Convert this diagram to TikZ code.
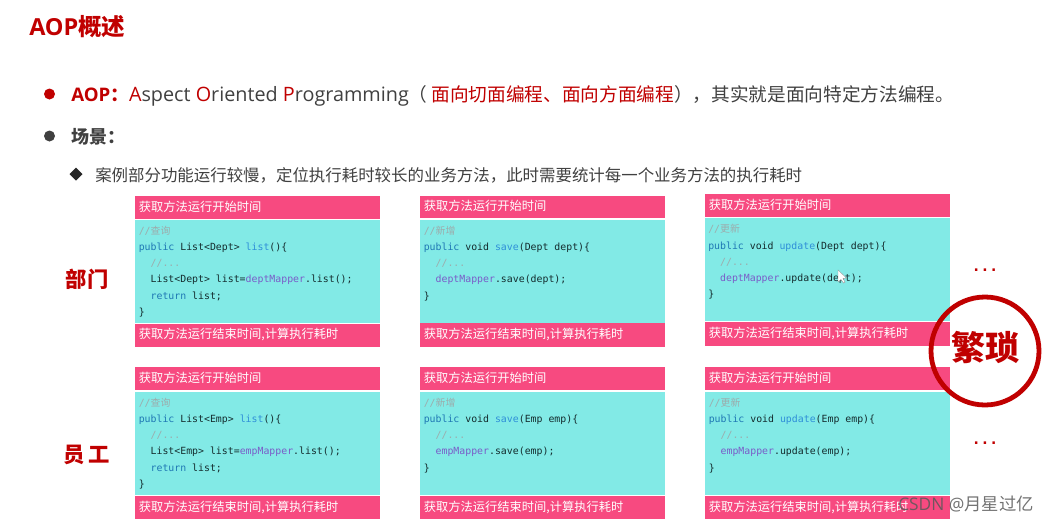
\documentclass[tikz,border=0pt]{standalone}
\usepackage{fontspec}
\setmainfont{Noto Sans CJK SC}
\setmonofont{DejaVu Sans Mono}
\newfontfamily\latinfont{Open Sans}
\definecolor{stampred}{HTML}{C00000}
\definecolor{bargrey}{HTML}{404040}
\definecolor{barpink}{HTML}{F74A80}
\definecolor{bodycyan}{HTML}{82EAE6}
\definecolor{codekw}{HTML}{1F78B4}
\definecolor{codefn}{HTML}{2F8FD8}
\definecolor{codefield}{HTML}{7A5CC8}
\definecolor{codecm}{HTML}{9CACAC}
\definecolor{codetext}{HTML}{142C2E}
\newcommand{\kw}[1]{\textcolor{codekw}{#1}}
\newcommand{\fn}[1]{\textcolor{codefn}{#1}}
\newcommand{\fld}[1]{\textcolor{codefield}{#1}}
\newcommand{\cm}[1]{\textcolor{codecm}{#1}}
\newcommand{\cmzh}[1]{\textcolor{codecm}{//{\rmfamily #1}}}
\newcommand{\redL}[1]{\textcolor{stampred}{#1}}
\tikzset{
  headtext/.style={anchor=west, inner sep=0, text=white, font=\fontsize{9.2}{11}\selectfont},
  codetxt/.style={anchor=north west, inner sep=0, align=left, text=codetext, font=\fontsize{7.4}{12.15}\selectfont\ttfamily},
  handtxt/.style={text=stampred, inner sep=0, font=\fontsize{16}{18}\selectfont\bfseries},
  dotstxt/.style={text=stampred, inner sep=0, font=\fontsize{11}{12}\selectfont\ttfamily\bfseries},
  linetxt/.style={anchor=west, inner sep=0, text=bargrey},
}
\begin{document}
\begin{tikzpicture}[x=0.75pt,y=-0.75pt]
  \useasboundingbox (0,0) rectangle (1050,522);

  \node [anchor=west, inner sep=0, text=stampred, font=\fontsize{17.6}{20}\selectfont\bfseries] (title) at (29,27) {{\latinfont AOP}概述};

  % bullets
  \fill [stampred] (49.5,94) circle (5.5);
  \fill [bargrey] (49.5,136) circle (5.5);
  \fill [black!85] (76,167.5) -- (82.5,174) -- (76,180.5) -- (69.5,174) -- cycle;

  \node [linetxt, font=\fontsize{14}{16}\selectfont] (aop) at (71,95.5) {{\latinfont\bfseries\redL{AOP}}\textbf{\redL{：}}{\fontsize{14.85}{16}\selectfont\latinfont\redL{A}spect \redL{O}riented \redL{P}rogramming}（\hspace{3pt}\redL{面向切面编程、面向方面编程}），其实就是面向特定方法编程。};
  \node [linetxt, font=\fontsize{13.5}{16}\selectfont\bfseries] (scene) at (71,137) {场景：};
  \node [linetxt, font=\fontsize{12.33}{14}\selectfont] (case) at (95,175) {案例部分功能运行较慢，定位执行耗时较长的业务方法，此时需要统计每一个业务方法的执行耗时};

  % the six panels
  \foreach \n/\x/\ya/\yb/\yc/\yd/\ye in {
    da/134.5/196/219/219.8/323/346.7,
    db/419.5/196/218/219.5/322.5/346.7,
    dc/704.5/194/216.7/218/321/345.7,
    ea/134.5/367.3/390.3/391.5/495/519,
    eb/419.5/367.3/390.3/391.5/495/519,
    ec/704.5/367.3/390.3/391.5/495/519} {
    \fill [barpink] (\x,\ya) rectangle (\x+245.5,\yb);
    \fill [bodycyan] (\x,\yc) rectangle (\x+245.5,\yd);
    \fill [barpink] (\x,\yd+0.7) rectangle (\x+245.5,\ye);
    \node [headtext] (top\n) at (\x+4,{(\ya+\yb)/2-0.8}) {获取方法运行开始时间};
    \node [headtext] (bot\n) at (\x+4,{(\yd+\ye)/2}) {获取方法运行结束时间,计算执行耗时};
  }

  \node [codetxt] (codeda) at (138.5,225.7) {\cmzh{查询}\\\kw{public} List<Dept> \fn{list}()\{\\\ \ \cm{//...}\\\ \ List<Dept> list=\fld{deptMapper}.list();\\\ \ \kw{return} list;\\\}};
  \node [codetxt] (codedb) at (423.5,225.7) {\cmzh{新增}\\\kw{public} void \fn{save}(Dept dept)\{\\\ \ \cm{//...}\\\ \ \fld{deptMapper}.save(dept);\\\}};
  \node [codetxt] (codedc) at (708,224.2) {\cmzh{更新}\\\kw{public} void \fn{update}(Dept dept)\{\\\ \ \cm{//...}\\\ \ \fld{deptMapper}.update(dept);\\\}};
  \node [codetxt] (codeea) at (138.5,397.7) {\cmzh{查询}\\\kw{public} List<Emp> \fn{list}()\{\\\ \ \cm{//...}\\\ \ List<Emp> list=\fld{empMapper}.list();\\\ \ \kw{return} list;\\\}};
  \node [codetxt] (codeeb) at (423.5,397.7) {\cmzh{新增}\\\kw{public} void \fn{save}(Emp emp)\{\\\ \ \cm{//...}\\\ \ \fld{empMapper}.save(emp);\\\}};
  \node [codetxt] (codeec) at (708.5,397.7) {\cmzh{更新}\\\kw{public} void \fn{update}(Emp emp)\{\\\ \ \cm{//...}\\\ \ \fld{empMapper}.update(emp);\\\}};

  % row labels
  \node [handtxt] (dept) at (87,279) {部门};
  \node [handtxt] (emp) at (87,455) {员\,工};

  \node [dotstxt] (dotsa) at (985,270) {...};
  \node [dotstxt] (dotsb) at (985,443) {...};

  % stamp
  \draw [stampred, line width=3.6pt] (985,351) circle (54);
  \node [text=stampred, inner sep=0, font=\fontsize{25.5}{28}\selectfont\bfseries] (stamp) at (985,347) {繁琐};

  % mouse pointer
  \fill [white, draw=black!40, line width=0.3pt] (838,270) -- (838,282) -- (841,279.5) -- (843.5,283) -- (845,282) -- (843,278.5) -- (846.5,278) -- cycle;

  \node [anchor=west, inner sep=0, text=black!65, opacity=0.85, font=\fontsize{13}{15}\selectfont] (mark) at (898,504) {{\latinfont CSDN @}月星过亿};
\end{tikzpicture}
\end{document}
